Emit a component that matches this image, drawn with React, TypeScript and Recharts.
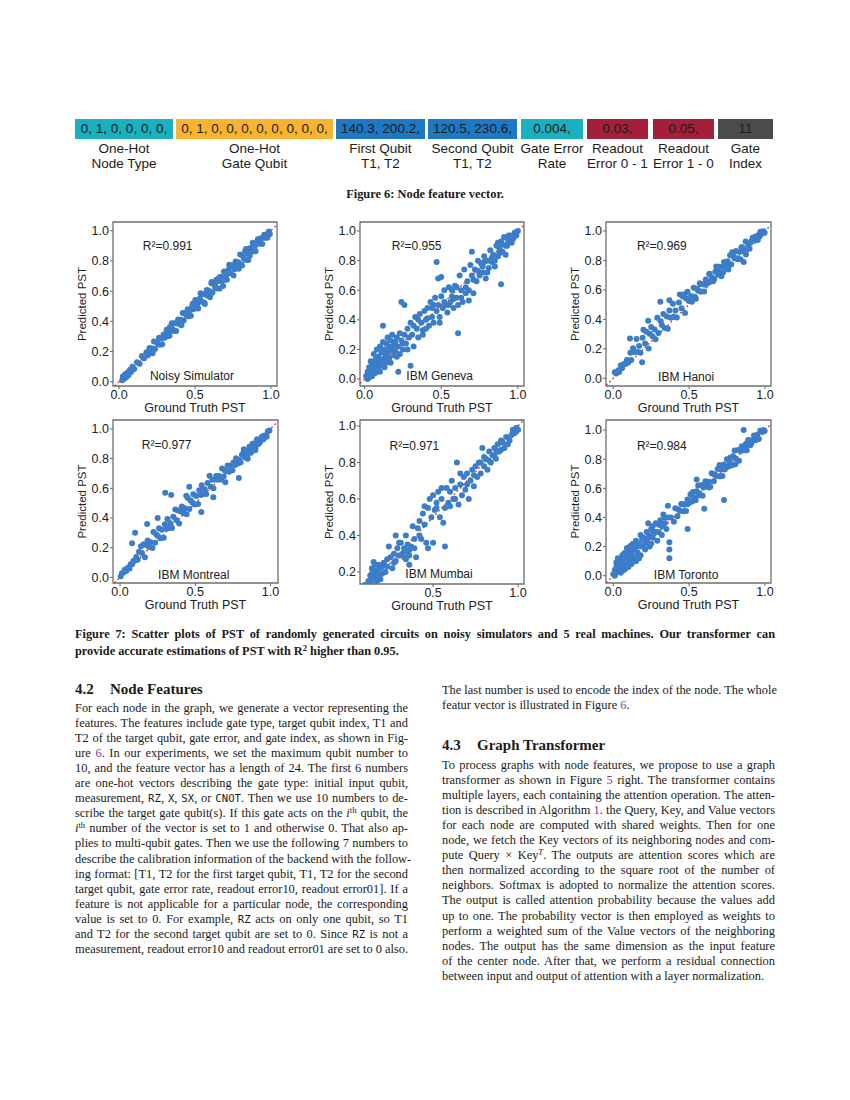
import React from 'react';
import { ScatterChart, Scatter, XAxis, YAxis, ReferenceLine, ReferenceArea, ReferenceDot } from 'recharts';

type Pt = [number, number];

// ground truth PST, predicted PST
const noisySimulator: Pt[] = [
  [0.02, 0.01], [0.025, 0.035], [0.033, 0.02], [0.04, 0.05], [0.048, 0.03], [0.056, 0.062], [0.063, 0.045], [0.072, 0.08],
  [0.08, 0.066], [0.088, 0.1], [0.1, 0.085], [0.118, 0.13], [0.135, 0.12], [0.15, 0.17], [0.165, 0.155], [0.18, 0.195],
  [0.19, 0.175], [0.2, 0.224], [0.206, 0.194], [0.217, 0.221], [0.221, 0.189], [0.23, 0.266], [0.237, 0.217], [0.25, 0.262],
  [0.255, 0.251], [0.263, 0.291], [0.269, 0.245], [0.28, 0.288], [0.284, 0.248], [0.293, 0.313], [0.3, 0.292], [0.313, 0.345],
  [0.318, 0.302], [0.326, 0.326], [0.332, 0.304], [0.343, 0.359], [0.347, 0.387], [0.356, 0.344], [0.363, 0.387], [0.376, 0.336],
  [0.381, 0.387], [0.389, 0.413], [0.395, 0.383], [0.406, 0.41], [0.41, 0.378], [0.419, 0.455], [0.426, 0.406], [0.439, 0.451],
  [0.444, 0.44], [0.452, 0.48], [0.458, 0.434], [0.469, 0.477], [0.473, 0.437], [0.482, 0.502], [0.489, 0.481], [0.502, 0.542],
  [0.507, 0.487], [0.515, 0.515], [0.521, 0.486], [0.532, 0.552], [0.536, 0.586], [0.545, 0.53], [0.552, 0.582], [0.565, 0.515],
  [0.57, 0.578], [0.578, 0.608], [0.584, 0.569], [0.595, 0.6], [0.599, 0.559], [0.608, 0.653], [0.615, 0.59], [0.628, 0.643],
  [0.633, 0.628], [0.641, 0.676], [0.647, 0.617], [0.658, 0.668], [0.662, 0.617], [0.671, 0.696], [0.678, 0.668], [0.691, 0.731],
  [0.696, 0.676], [0.704, 0.704], [0.71, 0.675], [0.721, 0.741], [0.725, 0.775], [0.734, 0.719], [0.741, 0.771], [0.754, 0.704],
  [0.759, 0.767], [0.767, 0.797], [0.773, 0.758], [0.784, 0.789], [0.788, 0.748], [0.797, 0.842], [0.804, 0.779], [0.817, 0.832],
  [0.822, 0.817], [0.83, 0.865], [0.836, 0.806], [0.847, 0.857], [0.851, 0.806], [0.86, 0.885], [0.867, 0.857], [0.88, 0.92],
  [0.885, 0.865], [0.893, 0.893], [0.899, 0.864], [0.91, 0.922], [0.914, 0.944], [0.923, 0.914], [0.93, 0.948], [0.943, 0.913],
  [0.948, 0.953], [0.956, 0.974], [0.962, 0.953], [0.973, 0.976], [0.977, 0.953], [0.986, 0.995], [0.993, 0.978],
  [0.31, 0.306], [0.335, 0.363], [0.36, 0.336], [0.385, 0.393], [0.41, 0.374], [0.435, 0.455], [0.46, 0.452], [0.485, 0.517],
  [0.51, 0.49], [0.535, 0.535], [0.56, 0.525], [0.585, 0.605], [0.61, 0.66], [0.635, 0.62], [0.66, 0.69], [0.685, 0.635],
  [0.71, 0.718], [0.735, 0.765], [0.76, 0.745], [0.785, 0.79], [0.81, 0.77], [0.835, 0.88], [0.86, 0.835], [0.885, 0.9],
];

const ibmGeneva: Pt[] = [
  [0.01, 0.02], [0.02, 0.05], [0.02, 0.0], [0.03, 0.08], [0.03, 0.03], [0.04, 0.12], [0.04, 0.06], [0.05, 0.02],
  [0.05, 0.1], [0.06, 0.17], [0.06, 0.07], [0.07, 0.13], [0.07, 0.04], [0.08, 0.1], [0.08, 0.2], [0.09, 0.15],
  [0.09, 0.06], [0.1, 0.12], [0.1, 0.22], [0.11, 0.18], [0.11, 0.09], [0.12, 0.36], [0.12, 0.25], [0.13, 0.14],
  [0.13, 0.2], [0.14, 0.11], [0.14, 0.24], [0.15, 0.18], [0.15, 0.28], [0.16, 0.22], [0.16, 0.14], [0.17, 0.26],
  [0.18, 0.2], [0.18, 0.3], [0.19, 0.16], [0.2, 0.25], [0.2, 0.19], [0.21, 0.28], [0.22, 0.22], [0.22, 0.05],
  [0.23, 0.31], [0.24, 0.26], [0.24, 0.52], [0.25, 0.2], [0.26, 0.5], [0.26, 0.3], [0.27, 0.24], [0.28, 0.34],
  [0.29, 0.28], [0.3, 0.09], [0.3, 0.38], [0.31, 0.3], [0.32, 0.22], [0.33, 0.42], [0.34, 0.34], [0.35, 0.28],
  [0.36, 0.44], [0.37, 0.38], [0.38, 0.3], [0.39, 0.46], [0.4, 0.4], [0.4, 0.34], [0.41, 0.48], [0.42, 0.36],
  [0.43, 0.52], [0.44, 0.42], [0.45, 0.38], [0.46, 0.55], [0.47, 0.79], [0.47, 0.46], [0.48, 0.68], [0.48, 0.5],
  [0.49, 0.42], [0.5, 0.56], [0.5, 0.69], [0.51, 0.48], [0.52, 0.6], [0.53, 0.5], [0.54, 0.45], [0.55, 0.62],
  [0.56, 0.52], [0.57, 0.56], [0.58, 0.48], [0.59, 0.63], [0.6, 0.55], [0.61, 0.31], [0.61, 0.5], [0.62, 0.7],
  [0.63, 0.6], [0.64, 0.52], [0.65, 0.74], [0.66, 0.58], [0.67, 0.66], [0.68, 0.6], [0.69, 0.77], [0.7, 0.86],
  [0.7, 0.7], [0.71, 0.58], [0.72, 0.74], [0.73, 0.66], [0.74, 0.8], [0.75, 0.7], [0.76, 0.78], [0.77, 0.72],
  [0.78, 0.83], [0.79, 0.68], [0.8, 0.8], [0.81, 0.75], [0.82, 0.87], [0.83, 0.79], [0.84, 0.84], [0.85, 0.76],
  [0.86, 0.9], [0.87, 0.83], [0.88, 0.88], [0.89, 0.64], [0.89, 0.93], [0.9, 0.86], [0.91, 0.96], [0.92, 0.9],
  [0.93, 0.95], [0.94, 0.93], [0.95, 0.97], [0.96, 0.94], [0.97, 0.97], [0.98, 0.99], [0.99, 0.97], [1.0, 1.0],
  [0.03, 0.01], [0.04, 0.03], [0.05, 0.08], [0.06, 0.04], [0.07, 0.06], [0.08, 0.14], [0.09, 0.09], [0.1, 0.05],
  [0.11, 0.13], [0.12, 0.19], [0.13, 0.08], [0.14, 0.16], [0.16, 0.19], [0.17, 0.11], [0.19, 0.23], [0.21, 0.15],
  [0.23, 0.17], [0.25, 0.24], [0.28, 0.2], [0.32, 0.36], [0.35, 0.4], [0.38, 0.33], [0.41, 0.41], [0.44, 0.48],
  [0.49, 0.38], [0.52, 0.52], [0.55, 0.5], [0.58, 0.54], [0.6, 0.62], [0.63, 0.55], [0.66, 0.62], [0.68, 0.53],
  [0.71, 0.67], [0.74, 0.73], [0.77, 0.76], [0.8, 0.72], [0.83, 0.82], [0.85, 0.8], [0.87, 0.92], [0.9, 0.91],
  [0.92, 0.84], [0.94, 0.97], [0.96, 0.92], [0.97, 0.95], [0.99, 0.99], [0.93, 0.9], [0.88, 0.85], [0.78, 0.79],
  [0.57, 0.6], [0.45, 0.5],
];

const ibmHanoi: Pt[] = [
  [0.01, 0.042], [0.019, 0.033], [0.033, 0.055], [0.039, 0.043], [0.05, 0.088], [0.058, 0.068], [0.073, 0.099], [0.08, 0.098],
  [0.09, 0.124], [0.099, 0.107], [0.113, 0.173], [0.119, 0.124], [0.13, 0.205], [0.138, 0.178], [0.153, 0.267], [0.16, 0.178],
  [0.17, 0.22], [0.179, 0.173], [0.193, 0.275], [0.199, 0.329], [0.21, 0.236], [0.218, 0.316], [0.233, 0.203], [0.24, 0.302],
  [0.25, 0.348], [0.259, 0.285], [0.273, 0.331], [0.279, 0.265], [0.29, 0.412], [0.298, 0.308], [0.313, 0.387], [0.32, 0.362],
  [0.33, 0.436], [0.339, 0.341], [0.353, 0.419], [0.359, 0.337], [0.37, 0.46], [0.378, 0.412], [0.393, 0.507], [0.4, 0.418],
  [0.41, 0.46], [0.419, 0.413], [0.433, 0.515], [0.439, 0.569], [0.45, 0.476], [0.458, 0.556], [0.473, 0.443], [0.48, 0.542],
  [0.49, 0.588], [0.499, 0.525], [0.513, 0.558], [0.519, 0.519], [0.53, 0.615], [0.538, 0.553], [0.553, 0.608], [0.56, 0.595],
  [0.57, 0.645], [0.579, 0.589], [0.593, 0.638], [0.599, 0.589], [0.61, 0.67], [0.618, 0.643], [0.633, 0.708], [0.64, 0.655],
  [0.65, 0.685], [0.659, 0.659], [0.673, 0.723], [0.679, 0.759], [0.69, 0.705], [0.698, 0.758], [0.713, 0.693], [0.72, 0.757],
  [0.73, 0.79], [0.739, 0.754], [0.753, 0.778], [0.759, 0.739], [0.77, 0.835], [0.778, 0.773], [0.793, 0.828], [0.8, 0.815],
  [0.81, 0.865], [0.819, 0.809], [0.833, 0.858], [0.839, 0.809], [0.85, 0.89], [0.858, 0.863], [0.873, 0.928], [0.88, 0.875],
  [0.89, 0.905], [0.899, 0.879], [0.913, 0.933], [0.919, 0.954], [0.93, 0.933], [0.938, 0.963], [0.953, 0.938], [0.96, 0.974],
  [0.97, 0.995], [0.979, 0.981], [0.99, 0.998], [0.998, 0.988],
  [0.545, 0.54], [0.575, 0.64], [0.605, 0.635], [0.635, 0.71], [0.665, 0.675], [0.695, 0.725], [0.725, 0.72], [0.755, 0.795],
  [0.785, 0.855], [0.815, 0.815], [0.845, 0.89], [0.875, 0.84], [0.905, 0.92], [0.935, 0.96], [0.965, 0.965],
  [0.11, 0.27], [0.23, 0.39], [0.31, 0.52], [0.37, 0.53], [0.47, 0.57], [0.19, 0.11], [0.86, 0.79],
];

const ibmMontreal: Pt[] = [
  [0.005, 0.008], [0.013, 0.027], [0.025, 0.034], [0.031, 0.051], [0.041, 0.042], [0.05, 0.063], [0.063, 0.06], [0.07, 0.088],
  [0.081, 0.088], [0.089, 0.111], [0.101, 0.115], [0.107, 0.137], [0.117, 0.119], [0.126, 0.172], [0.139, 0.209], [0.146, 0.164],
  [0.157, 0.223], [0.165, 0.135], [0.177, 0.216], [0.183, 0.249], [0.193, 0.205], [0.202, 0.238], [0.215, 0.197], [0.222, 0.306],
  [0.233, 0.233], [0.241, 0.289], [0.253, 0.277], [0.259, 0.331], [0.269, 0.263], [0.278, 0.32], [0.291, 0.267], [0.298, 0.358],
  [0.309, 0.327], [0.315, 0.393], [0.327, 0.333], [0.335, 0.365], [0.345, 0.333], [0.354, 0.408], [0.367, 0.457], [0.374, 0.386],
  [0.385, 0.451], [0.393, 0.363], [0.405, 0.444], [0.411, 0.477], [0.421, 0.433], [0.43, 0.466], [0.443, 0.425], [0.45, 0.534],
  [0.461, 0.461], [0.469, 0.517], [0.481, 0.505], [0.487, 0.559], [0.497, 0.491], [0.506, 0.548], [0.519, 0.495], [0.526, 0.586],
  [0.537, 0.555], [0.543, 0.621], [0.555, 0.561], [0.563, 0.593], [0.573, 0.561], [0.582, 0.636], [0.595, 0.685], [0.602, 0.61],
  [0.613, 0.657], [0.621, 0.601], [0.633, 0.659], [0.639, 0.683], [0.649, 0.657], [0.658, 0.682], [0.671, 0.659], [0.678, 0.734],
  [0.689, 0.679], [0.697, 0.719], [0.709, 0.715], [0.715, 0.753], [0.725, 0.711], [0.734, 0.752], [0.747, 0.721], [0.754, 0.774],
  [0.765, 0.757], [0.771, 0.803], [0.783, 0.767], [0.791, 0.791], [0.801, 0.773], [0.81, 0.826], [0.823, 0.863], [0.83, 0.808],
  [0.841, 0.855], [0.849, 0.799], [0.861, 0.857], [0.867, 0.881], [0.877, 0.855], [0.886, 0.88], [0.899, 0.857], [0.906, 0.914],
  [0.917, 0.897], [0.925, 0.921], [0.937, 0.925], [0.943, 0.947], [0.953, 0.931], [0.962, 0.956], [0.975, 0.947], [0.982, 0.982],
  [0.993, 0.989],
  [0.82, 0.84], [0.845, 0.82], [0.87, 0.84], [0.88, 0.9], [0.9, 0.87], [0.91, 0.93], [0.92, 0.9], [0.94, 0.94],
  [0.95, 0.95], [0.86, 0.88], [0.89, 0.86], [0.93, 0.91],
  [0.08, 0.23], [0.1, 0.3], [0.18, 0.36], [0.3, 0.57], [0.34, 0.555], [0.46, 0.61], [0.79, 0.67], [0.54, 0.44],
  [0.62, 0.54], [0.7, 0.64], [0.25, 0.4], [0.44, 0.55],
];

const ibmMumbai: Pt[] = [
  [0.08, 0.12], [0.1, 0.13], [0.12, 0.15], [0.13, 0.14], [0.13, 0.18], [0.14, 0.16], [0.14, 0.22], [0.15, 0.12],
  [0.15, 0.255], [0.15, 0.2], [0.16, 0.17], [0.16, 0.24], [0.17, 0.15], [0.17, 0.21], [0.18, 0.18], [0.18, 0.24],
  [0.19, 0.16], [0.19, 0.22], [0.2, 0.19], [0.21, 0.25], [0.22, 0.2], [0.23, 0.23], [0.24, 0.34], [0.25, 0.28],
  [0.26, 0.22], [0.27, 0.3], [0.28, 0.4], [0.28, 0.26], [0.29, 0.33], [0.3, 0.29], [0.31, 0.36], [0.32, 0.3],
  [0.33, 0.33], [0.34, 0.27], [0.34, 0.4], [0.35, 0.31], [0.35, 0.35], [0.36, 0.29], [0.36, 0.24], [0.37, 0.34],
  [0.38, 0.45], [0.39, 0.38], [0.4, 0.28], [0.41, 0.44], [0.42, 0.48], [0.43, 0.38], [0.44, 0.52], [0.45, 0.46],
  [0.46, 0.36], [0.47, 0.33], [0.47, 0.55], [0.48, 0.6], [0.49, 0.5], [0.5, 0.36], [0.5, 0.62], [0.51, 0.54],
  [0.52, 0.58], [0.53, 0.64], [0.54, 0.5], [0.55, 0.6], [0.56, 0.47], [0.57, 0.55], [0.57, 0.34], [0.58, 0.66],
  [0.59, 0.58], [0.6, 0.64], [0.61, 0.7], [0.62, 0.6], [0.63, 0.66], [0.64, 0.8], [0.65, 0.57], [0.66, 0.68],
  [0.67, 0.62], [0.68, 0.72], [0.69, 0.65], [0.7, 0.74], [0.71, 0.6], [0.72, 0.7], [0.73, 0.76], [0.74, 0.67],
  [0.75, 0.78], [0.76, 0.72], [0.77, 0.8], [0.78, 0.74], [0.79, 0.88], [0.8, 0.78], [0.81, 0.82], [0.82, 0.76],
  [0.83, 0.86], [0.84, 0.8], [0.85, 0.84], [0.86, 0.88], [0.87, 0.82], [0.88, 0.9], [0.89, 0.86], [0.9, 0.92],
  [0.92, 0.88], [0.93, 0.94], [0.95, 0.92], [0.97, 0.97], [0.98, 0.98], [0.99, 0.97], [1.0, 0.98], [0.98, 0.96],
  [0.14, 0.19], [0.16, 0.13], [0.17, 0.19], [0.2, 0.23], [0.23, 0.27], [0.27, 0.25], [0.3, 0.36], [0.33, 0.28],
  [0.36, 0.32], [0.39, 0.33], [0.42, 0.4], [0.45, 0.56], [0.52, 0.55], [0.55, 0.66], [0.6, 0.56], [0.63, 0.6],
  [0.66, 0.74], [0.7, 0.68], [0.74, 0.73], [0.78, 0.8], [0.8, 0.83], [0.83, 0.81], [0.86, 0.84], [0.88, 0.86],
  [0.9, 0.87], [0.91, 0.91], [0.94, 0.9], [0.96, 0.95], [0.99, 0.99], [0.97, 0.98],
];

const ibmToronto: Pt[] = [
  [0.0, 0.01], [0.01, 0.04], [0.01, 0.0], [0.02, 0.06], [0.02, 0.02], [0.03, 0.08], [0.03, 0.03], [0.04, 0.1],
  [0.04, 0.05], [0.05, 0.02], [0.05, 0.12], [0.06, 0.07], [0.06, 0.14], [0.07, 0.04], [0.07, 0.1], [0.08, 0.16],
  [0.08, 0.08], [0.09, 0.12], [0.09, 0.19], [0.1, 0.06], [0.1, 0.14], [0.11, 0.2], [0.11, 0.1], [0.12, 0.16],
  [0.13, 0.22], [0.13, 0.12], [0.14, 0.18], [0.15, 0.1], [0.15, 0.24], [0.16, 0.16], [0.17, 0.22], [0.18, 0.28],
  [0.18, 0.14], [0.19, 0.2], [0.2, 0.26], [0.21, 0.18], [0.22, 0.3], [0.22, 0.24], [0.23, 0.36], [0.24, 0.2],
  [0.24, 0.28], [0.25, 0.32], [0.26, 0.26], [0.27, 0.3], [0.28, 0.36], [0.29, 0.24], [0.3, 0.3], [0.31, 0.38],
  [0.32, 0.34], [0.33, 0.42], [0.34, 0.36], [0.36, 0.48], [0.36, 0.4],
  [0.02, 0.09], [0.03, 0.12], [0.05, 0.07], [0.06, 0.1], [0.07, 0.15], [0.08, 0.05], [0.09, 0.09], [0.1, 0.17],
  [0.12, 0.08], [0.12, 0.21], [0.14, 0.13], [0.16, 0.2], [0.17, 0.12], [0.19, 0.25], [0.21, 0.22], [0.23, 0.26],
  [0.25, 0.22], [0.26, 0.34], [0.28, 0.3], [0.3, 0.35], [0.32, 0.28], [0.34, 0.4], [0.38, 0.4],
  [0.4, 0.37], [0.409, 0.464], [0.423, 0.408], [0.429, 0.454], [0.44, 0.445], [0.448, 0.493], [0.463, 0.443], [0.47, 0.49],
  [0.48, 0.445], [0.489, 0.524], [0.503, 0.503], [0.509, 0.559], [0.52, 0.51], [0.528, 0.538], [0.543, 0.518], [0.55, 0.58],
  [0.56, 0.62], [0.569, 0.564], [0.583, 0.623], [0.589, 0.549], [0.6, 0.618], [0.608, 0.648], [0.623, 0.618], [0.63, 0.645],
  [0.64, 0.61], [0.649, 0.704], [0.663, 0.648], [0.669, 0.694], [0.68, 0.685], [0.688, 0.733], [0.703, 0.683], [0.71, 0.73],
  [0.72, 0.685], [0.729, 0.764], [0.743, 0.743], [0.749, 0.799], [0.76, 0.75], [0.768, 0.778], [0.783, 0.758], [0.79, 0.82],
  [0.8, 0.86], [0.809, 0.804], [0.823, 0.863], [0.829, 0.789], [0.84, 0.858], [0.848, 0.888], [0.863, 0.862], [0.87, 0.884],
  [0.88, 0.862], [0.889, 0.931], [0.903, 0.896], [0.909, 0.93], [0.92, 0.926], [0.928, 0.962], [0.943, 0.932], [0.95, 0.967],
  [0.96, 0.938], [0.969, 0.996], [0.983, 0.986], [0.989, 1.0], [0.998, 0.994],
  [0.455, 0.49], [0.49, 0.49], [0.525, 0.575], [0.56, 0.55], [0.595, 0.605], [0.63, 0.605], [0.665, 0.695], [0.7, 0.76],
  [0.735, 0.73], [0.77, 0.81], [0.805, 0.765], [0.84, 0.857], [0.875, 0.906], [0.91, 0.91], [0.945, 0.958],
  [0.37, 0.12], [0.37, 0.18], [0.37, 0.23], [0.49, 0.32], [0.6, 0.46], [0.73, 0.52], [0.86, 1.0], [0.35, 0.32], [0.55, 0.66],
];

const r2Labels = ['R²=0.991', 'R²=0.955', 'R²=0.969', 'R²=0.977', 'R²=0.971', 'R²=0.984'];
const machineNames = ['Noisy Simulator', 'IBM Geneva', 'IBM Hanoi', 'IBM Montreal', 'IBM Mumbai', 'IBM Toronto'];
const fullTicks = [0, 0.2, 0.4, 0.6, 0.8, 1.0];
const xTicksFull = [0, 0.5, 1.0];

// feature vector (Figure 6)
const featureValues = ['0, 1, 0, 0, 0, 0,', '0, 1, 0, 0, 0, 0, 0, 0, 0, 0,', '140.3, 200.2,', '120.5, 230.6,', '0.004,', '0.03,', '0.05,', '11'];
const featureLabels = [
  ['One-Hot', 'Node Type'], ['One-Hot', 'Gate Qubit'], ['First Qubit', 'T1, T2'], ['Second Qubit', 'T1, T2'],
  ['Gate Error', 'Rate'], ['Readout', 'Error 0 - 1'], ['Readout', 'Error 1 - 0'], ['Gate', 'Index'],
];

const featureBoxes = [
  { x0: 75, x1: 173, color: '#19b0c0' },
  { x0: 176, x1: 333, color: '#f8b431' },
  { x0: 336, x1: 425, color: '#1d78c6' },
  { x0: 428, x1: 517, color: '#1d78c6' },
  { x0: 521, x1: 583, color: '#19b0c0' },
  { x0: 587, x1: 648, color: '#a4203a' },
  { x0: 653, x1: 714, color: '#a4203a' },
  { x0: 718, x1: 773, color: '#4b4b4b' },
];

const panels = [
  { data: noisySimulator, left: 113, top: 222, w: 164, h: 164, xDom: [-0.04, 1.04], yDom: [-0.028, 1.058], xTicks: xTicksFull, yTicks: fullTicks, r2At: [0.32, 0.9], nameAt: [0.48, 0.04] },
  { data: ibmGeneva, left: 360, top: 222, w: 164, h: 164, xDom: [-0.03, 1.04], yDom: [-0.047, 1.061], xTicks: xTicksFull, yTicks: fullTicks, r2At: [0.34, 0.9], nameAt: [0.49, 0.02] },
  { data: ibmHanoi, left: 606, top: 222, w: 165, h: 164, xDom: [-0.048, 1.04], yDom: [-0.052, 1.061], xTicks: xTicksFull, yTicks: fullTicks, r2At: [0.32, 0.9], nameAt: [0.48, 0.01] },
  { data: ibmMontreal, left: 113, top: 420, w: 165, h: 163, xDom: [-0.047, 1.05], yDom: [-0.038, 1.06], xTicks: xTicksFull, yTicks: fullTicks, r2At: [0.31, 0.89], nameAt: [0.49, 0.02] },
  { data: ibmMumbai, left: 360, top: 420, w: 164, h: 164, xDom: [0.07, 1.035], yDom: [0.134, 1.033], xTicks: [0.5, 1.0], yTicks: [0.2, 0.4, 0.6, 0.8, 1.0], r2At: [0.39, 0.89], nameAt: [0.535, 0.19] },
  { data: ibmToronto, left: 606, top: 420, w: 165, h: 163, xDom: [-0.048, 1.04], yDom: [-0.05, 1.069], xTicks: xTicksFull, yTicks: fullTicks, r2At: [0.32, 0.89], nameAt: [0.48, 0.01] },
];

const sansFont = "'Liberation Sans', Arial, sans-serif";
const serifFont = "'Liberation Serif', 'Times New Roman', serif";
const monoFont = "'DejaVu Sans Mono', 'Liberation Mono', monospace";
const textColor = '#1a1a1a';
const linkColor = '#7d3c98';

const fmt = (v: number) => v.toFixed(1);

const Dot = (props: any) => <circle cx={props.cx} cy={props.cy} r={3} fill="#3c7dc9" />;

const Panel = ({ p, i }: { p: (typeof panels)[number]; i: number }) => {
  const pts = p.data.map(([x, y]) => ({ x, y }));
  const lo = Math.max(p.xDom[0], p.yDom[0]);
  const hi = Math.min(p.xDom[1], p.yDom[1]);
  return (
    <div style={{ position: 'absolute', left: p.left - 60, top: p.top - 10, fontFamily: sansFont }}>
      <ScatterChart width={p.w + 70} height={p.h + 50} margin={{ top: 10, right: 10, bottom: 0, left: 0 }}>
        <XAxis
          type="number"
          dataKey="x"
          domain={p.xDom}
          ticks={p.xTicks}
          tickFormatter={fmt}
          allowDataOverflow
          axisLine={false}
          tickSize={3}
          tickMargin={1}
          height={40}
          tick={{ fontSize: 12.5, fill: '#222' }}
          tickLine={{ stroke: '#666' }}
          label={{ value: 'Ground Truth PST', position: 'insideBottom', offset: 14, fontSize: 12.5, fill: '#222' }}
        />
        <YAxis
          type="number"
          dataKey="y"
          domain={p.yDom}
          ticks={p.yTicks}
          tickFormatter={fmt}
          allowDataOverflow
          axisLine={false}
          tickSize={3}
          tickMargin={1}
          width={60}
          tick={{ fontSize: 12.5, fill: '#222' }}
          tickLine={{ stroke: '#666' }}
          label={{ value: 'Predicted PST', angle: -90, position: 'insideLeft', offset: 29, fontSize: 11.5, fill: '#222', style: { textAnchor: 'middle' } }}
        />
        <ReferenceArea x1={p.xDom[0]} x2={p.xDom[1]} y1={p.yDom[0]} y2={p.yDom[1]} fill="none" stroke="#6f6f6f" strokeWidth={1.3} ifOverflow="visible" />
        <Scatter data={pts} isAnimationActive={false} shape={Dot} />
        <ReferenceLine segment={[{ x: lo, y: lo }, { x: hi, y: hi }]} stroke="#d62728" strokeWidth={1.2} strokeDasharray="2 2.5" />
        <ReferenceDot x={p.r2At[0]} y={p.r2At[1]} r={0.01} fill="none" stroke="none" label={{ value: r2Labels[i], position: 'center', fontSize: 12, fill: '#222' }} />
        <ReferenceDot x={p.nameAt[0]} y={p.nameAt[1]} r={0.01} fill="none" stroke="none" label={{ value: machineNames[i], position: 'center', fontSize: 12, fill: '#222' }} />
      </ScatterChart>
    </div>
  );
};

const Lk = ({ children }: { children: React.ReactNode }) => <span style={{ color: linkColor }}>{children}</span>;
const Cd = ({ children }: { children: React.ReactNode }) => <span style={{ fontFamily: monoFont, fontSize: '0.86em' }}>{children}</span>;
const Sup = ({ children }: { children: React.ReactNode }) => <span style={{ fontSize: '0.7em', verticalAlign: '0.45em', lineHeight: 0 }}>{children}</span>;

type Line = { t: React.ReactNode; last?: boolean };

const leftLines: Line[] = [
  { t: 'For each node in the graph, we generate a vector representing the' },
  { t: 'features. The features include gate type, target qubit index, T1 and' },
  { t: 'T2 of the target qubit, gate error, and gate index, as shown in Fig-' },
  { t: <>ure <Lk>6</Lk>. In our experiments, we set the maximum qubit number to</> },
  { t: '10, and the feature vector has a length of 24. The first 6 numbers' },
  { t: 'are one-hot vectors describing the gate type: initial input qubit,' },
  { t: <>measurement, <Cd>RZ</Cd>, <Cd>X</Cd>, <Cd>SX</Cd>, or <Cd>CNOT</Cd>. Then we use 10 numbers to de-</> },
  { t: <>scribe the target gate qubit(s). If this gate acts on the <i>i</i><Sup>th</Sup> qubit, the</> },
  { t: <><i>i</i><Sup>th</Sup> number of the vector is set to 1 and otherwise 0. That also ap-</> },
  { t: 'plies to multi-qubit gates. Then we use the following 7 numbers to' },
  { t: 'describe the calibration information of the backend with the follow-' },
  { t: 'ing format: [T1, T2 for the first target qubit, T1, T2 for the second' },
  { t: 'target qubit, gate error rate, readout error10, readout error01]. If a' },
  { t: 'feature is not applicable for a particular node, the corresponding' },
  { t: <>value is set to 0. For example, <Cd>RZ</Cd> acts on only one qubit, so T1</> },
  { t: <>and T2 for the second target qubit are set to 0. Since <Cd>RZ</Cd> is not a</> },
  { t: 'measurement, readout error10 and readout error01 are set to 0 also.', last: true },
];

const rightTopLines: Line[] = [
  { t: 'The last number is used to encode the index of the node. The whole' },
  { t: <>featur vector is illustrated in Figure <Lk>6</Lk>.</>, last: true },
];

const rightLines: Line[] = [
  { t: 'To process graphs with node features, we propose to use a graph' },
  { t: <>transformer as shown in Figure <Lk>5</Lk> right. The transformer contains</> },
  { t: 'multiple layers, each containing the attention operation. The atten-' },
  { t: <>tion is described in Algorithm <Lk>1</Lk>. the Query, Key, and Value vectors</> },
  { t: 'for each node are computed with shared weights. Then for one' },
  { t: 'node, we fetch the Key vectors of its neighboring nodes and com-' },
  { t: <>pute Query × Key<Sup><i>T</i></Sup>. The outputs are attention scores which are</> },
  { t: 'then normalized according to the square root of the number of' },
  { t: 'neighbors. Softmax is adopted to normalize the attention scores.' },
  { t: 'The output is called attention probability because the values add' },
  { t: 'up to one. The probability vector is then employed as weights to' },
  { t: 'perform a weighted sum of the Value vectors of the neighboring' },
  { t: 'nodes. The output has the same dimension as the input feature' },
  { t: 'of the center node. After that, we perform a residual connection' },
  { t: 'between input and output of attention with a layer normalization.', last: true },
];

const LINE_H = 15.1;

const TextBlock = ({ lines, left, top, width }: { lines: Line[]; left: number; top: number; width: number }) => (
  <>
    {lines.map((l, k) => (
      <div
        key={k}
        style={{
          position: 'absolute',
          left,
          top: top + k * LINE_H,
          width,
          height: LINE_H,
          lineHeight: `${LINE_H}px`,
          fontFamily: serifFont,
          fontSize: 12.4,
          color: textColor,
          textAlign: 'justify',
          textAlignLast: l.last ? 'left' : 'justify',
          whiteSpace: 'nowrap',
        }}
      >
        {l.t}
      </div>
    ))}
  </>
);

const Heading = ({ num, title, left, top }: { num: string; title: string; left: number; top: number }) => (
  <div style={{ position: 'absolute', left, top, fontFamily: serifFont, fontWeight: 'bold', fontSize: 15, color: textColor, lineHeight: '18px', whiteSpace: 'nowrap' }}>
    <span style={{ display: 'inline-block', width: 35 }}>{num}</span>
    {title}
  </div>
);

export default function App() {
  return (
    <div style={{ position: 'absolute', left: 0, top: 0, width: 850, height: 1100, background: '#fff', overflow: 'hidden' }}>
      {/* Figure 6: feature vector */}
      {featureBoxes.map((b, i) => (
        <React.Fragment key={i}>
          <div
            style={{
              position: 'absolute', left: b.x0, top: 119, width: b.x1 - b.x0, height: 20, background: b.color,
              fontFamily: sansFont, fontSize: 13.5, lineHeight: '20px', textAlign: 'center', color: '#1b1b1b', whiteSpace: 'nowrap',
            }}
          >
            {featureValues[i]}
          </div>
          <div
            style={{
              position: 'absolute', left: (b.x0 + b.x1) / 2 - 50, top: 141, width: 100, fontFamily: sansFont, fontSize: 13.5,
              lineHeight: '15px', textAlign: 'center', color: '#1b1b1b', whiteSpace: 'nowrap',
            }}
          >
            {featureLabels[i][0]}
            <br />
            {featureLabels[i][1]}
          </div>
        </React.Fragment>
      ))}
      <div style={{ position: 'absolute', left: 0, width: 850, top: 187, textAlign: 'center', fontFamily: serifFont, fontWeight: 'bold', fontSize: 12.4, color: textColor }}>
        Figure 6: Node feature vector.
      </div>

      {/* Figure 7: scatter plots */}
      {panels.map((p, i) => (
        <Panel key={i} p={p} i={i} />
      ))}
      <div style={{ position: 'absolute', left: 75, top: 626, width: 700, fontFamily: serifFont, fontWeight: 'bold', fontSize: 12.3, color: textColor, lineHeight: '17px' }}>
        <div style={{ textAlign: 'justify', textAlignLast: 'justify', whiteSpace: 'nowrap' }}>
          Figure 7: Scatter plots of PST of randomly generated circuits on noisy simulators and 5 real machines. Our transformer can
        </div>
        <div style={{ whiteSpace: 'nowrap' }}>
          provide accurate estimations of PST with R<Sup>2</Sup> higher than 0.95.
        </div>
      </div>

      {/* body text */}
      <Heading num="4.2" title="Node Features" left={75} top={680} />
      <TextBlock lines={leftLines} left={75} top={700.5} width={333} />
      <TextBlock lines={rightTopLines} left={442} top={682.5} width={333} />
      <Heading num="4.3" title="Graph Transformer" left={442} top={736} />
      <TextBlock lines={rightLines} left={442} top={757.5} width={333} />
    </div>
  );
}
